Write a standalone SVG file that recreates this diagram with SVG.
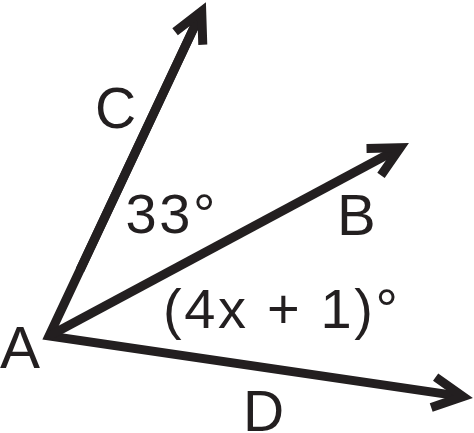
<svg xmlns="http://www.w3.org/2000/svg" width="474" height="433" viewBox="0 0 474 433">
  <style>
    .ray { fill: none; stroke: #231f20; stroke-width: 9; stroke-linejoin: miter; stroke-linecap: butt; }
    .lbl { font-family: "Liberation Sans", Arial, sans-serif; fill: #231f20; }
  </style>
  <defs>
    <marker id="chev" markerUnits="userSpaceOnUse" orient="auto" refX="0" refY="0" markerWidth="80" markerHeight="80" viewBox="-40 -40 80 80" overflow="visible">
      <path d="M -30,-15.3 L 0,0 L -30,15.3" fill="none" stroke="#231f20" stroke-width="9" stroke-linejoin="miter"/>
    </marker>
  </defs>
  <rect width="474" height="433" fill="#ffffff"/>
  <g id="connectors">
    <path class="ray" d="M 201.7,11.1 L 49,336 L 463.1,396.6" marker-end="url(#chev)"/>
    <path class="ray" d="M 80,270 L 201.7,11.1" marker-end="url(#chev)"/>
    <path class="ray" d="M 49,336 L 400.2,147.7" marker-end="url(#chev)"/>
  </g>
  <g id="label-C"><text class="lbl" x="95" y="128" font-size="57">C</text></g>
  <g id="label-33"><text class="lbl" x="125.5" y="233" font-size="56" textLength="90" lengthAdjust="spacing">33°</text></g>
  <g id="label-B"><text class="lbl" x="337" y="235" font-size="58">B</text></g>
  <g id="label-4x"><text class="lbl" x="163" y="328" font-size="56" textLength="235" lengthAdjust="spacing">(4x + 1)°</text></g>
  <g id="label-A"><text class="lbl" x="0" y="368" font-size="60">A</text></g>
  <g id="label-D"><text class="lbl" x="243" y="431" font-size="57">D</text></g>
</svg>
